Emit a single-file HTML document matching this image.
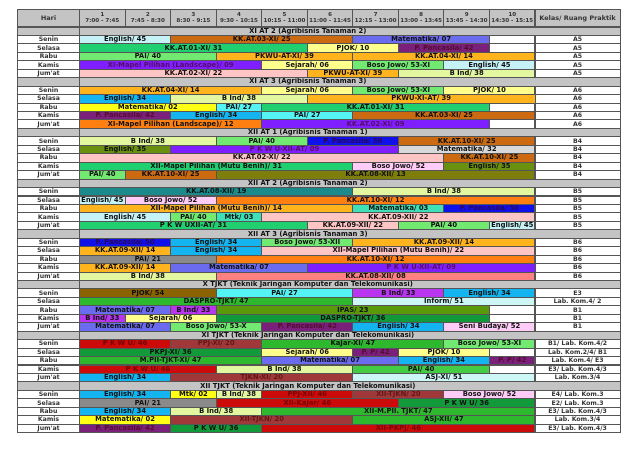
<!DOCTYPE html>
<html><head><meta charset="utf-8">
<style>
html,body{margin:0;padding:0;background:#fff;}
body{width:638px;height:451px;position:relative;overflow:hidden;font-family:"DejaVu Sans","Liberation Sans",sans-serif;}
.c{position:absolute;box-sizing:border-box;border:1px solid #555;font-weight:bold;font-size:6.8px;line-height:7px;text-align:center;white-space:nowrap;overflow:hidden;color:#111;display:flex;align-items:center;justify-content:center;}
.hd{background:#c4c4c4;color:#333;flex-direction:column;font-size:5.6px;line-height:6px;}
.day{background:#fff;color:#333;font-size:6.2px;}
.sec{background:#c4c4c4;}
.dark{color:rgba(60,0,0,.6);}
</style></head>
<body>
<div id="tt"></div>
<script>
const periods=["7:00 - 7:45","7:45 - 8:30","8:30 - 9:15","9:30 - 10:15","10:15 - 11:00","11:00 - 11:45","12:15 - 13:00","13:00 - 13:45","13:45 - 14:30","14:30 - 15:15"];
const days=["Senin","Selasa","Rabu","Kamis","Jum'at"];
const sectionTitles=["XI AT 2 (Agribisnis Tanaman 2)","XI AT 3 (Agribisnis Tanaman 3)","XII AT 1 (Agribisnis Tanaman 1)","XII AT 2 (Agribisnis Tanaman 2)","XII AT 3 (Agribisnis Tanaman 3)","X TJKT (Teknik Jaringan Komputer dan Telekomunikasi)","XI TJKT (Teknik Jaringan Komputer dan Telekomunikasi)","XII TJKT (Teknik Jaringan Komputer dan Telekomunikasi)"];
const rooms=[["A5","A5","A5","A5","A5"],["A6","A6","A6","A6","A6"],["B4","B4","B4","B4","B4"],["B5","B5","B5","B5","B5"],["B6","B6","B6","B6","B6"],["E3","Lab. Kom.4/ 2","B1","B1","B1"],["B1/ Lab. Kom.4/2","Lab. Kom.2/4/ B1","Lab. Kom.4/ E3","E3/ Lab. Kom.4/3","Lab. Kom.3/4"],["E4/ Lab. Kom.3","E2/ Lab. Kom.3","E3/ Lab. Kom.4/3","Lab. Kom.3/4","E3/ Lab. Kom.4/3"]];
const colors={lc:"#c4f2f7",ob:"#cc6a12",bv:"#6b6bf0",gr:"#20d070",ly:"#ffff8c",pu:"#7a1f7a",lg:"#72ea72",go:"#ffb41e",vi:"#7f1fff",pk:"#ffc4c4",yg:"#e2f7a0",sb:"#14b4f0",ye:"#ffff14",cy:"#55f4f4",or:"#ff8010",bl:"#1010e8",ol:"#6a9010",dol:"#7e7e0c",lv:"#ffccf7",lgy:"#d9d9d9",te:"#1a8a8a",aq:"#3fe0b8",gy:"#8a8a8a",sa:"#ff8080",br:"#8a6200",mg:"#b935f0",g2:"#2db82d",ic:"#cdf6f6",ip:"#5a9a0a",dg:"#129a3a",rd:"#cc0a0a",rb:"#a0383a",pg:"#44cc44",w:"#ffffff"};
const darkKeys=["pu","vi","bl","rd","rb"];
// each lesson: [text, span, colorKey]
const schedule=[
[[["English/ 45",2,"lc"],["KK.AT.03-XI/ 25",4,"ob"],["Matematika/ 07",3,"bv"],["",1,"w"]],
 [["KK.AT.01-XI/ 31",5,"gr"],["PJOK/ 10",2,"ly"],["P. Pancasila/ 42",2,"pu"],["",1,"w"]],
 [["PAI/ 40",3,"lg"],["PKWU-AT-XI/ 39",3,"go"],["KK.AT.04-XI/ 14",4,"go"]],
 [["XI-Mapel Pilihan (Landscape)/ 09",4,"vi"],["Sejarah/ 06",2,"ly"],["Boso Jowo/ 53-XI",2,"lg"],["English/ 45",2,"lc"]],
 [["KK.AT.02-XI/ 22",5,"pk"],["PKWU-AT-XI/ 39",2,"go"],["B Ind/ 38",3,"yg"]]],
[[["KK.AT.04-XI/ 14",4,"go"],["Sejarah/ 06",2,"ly"],["Boso Jowo/ 53-XI",2,"lg"],["PJOK/ 10",2,"ly"]],
 [["English/ 34",2,"sb"],["B Ind/ 38",3,"yg"],["PKWU-XI-AT/ 39",5,"go"]],
 [["Matematika/ 02",3,"ye"],["PAI/ 27",1,"cy"],["KK.AT.01-XI/ 31",5,"gr"],["",1,"w"]],
 [["P. Pancasila/ 42",2,"pu"],["English/ 34",2,"sb"],["PAI/ 27",2,"cy"],["KK.AT.03-XI/ 25",4,"ob"]],
 [["XI-Mapel Pilihan (Landscape)/ 12",4,"or"],["KK.AT.02-XI/ 09",5,"vi"],["",1,"w"]]],
[[["B Ind/ 38",3,"yg"],["PAI/ 40",2,"lg"],["P. Pancasila/ 50",2,"bl"],["KK.AT.10-XI/ 25",3,"ob"]],
 [["English/ 35",2,"ol"],["P K W U-XII-AT/ 09",5,"vi"],["Matematika/ 32",3,"lgy"]],
 [["KK.AT.02-XI/ 22",8,"pk"],["KK.AT.10-XI/ 25",2,"ob"]],
 [["XII-Mapel Pilihan (Mutu Benih)/ 31",6,"gr"],["Boso Jowo/ 52",2,"lv"],["English/ 35",2,"ol"]],
 [["PAI/ 40",1,"lg"],["KK.AT.10-XI/ 25",2,"ob"],["KK.AT.08-XII/ 13",7,"dol"]]],
[[["KK.AT.08-XII/ 19",6,"te"],["B Ind/ 38",4,"yg"]],
 [["English/ 45",1,"lc"],["Boso Jowo/ 52",2,"lv"],["KK.AT.10-XI/ 12",7,"or"]],
 [["XII-Mapel Pilihan (Mutu Benih)/ 14",6,"go"],["Matematika/ 03",2,"aq"],["P. Pancasila/ 50",2,"bl"]],
 [["English/ 45",2,"lc"],["PAI/ 40",1,"lg"],["Mtk/ 03",1,"aq"],["KK.AT.09-XII/ 22",6,"pk"]],
 [["P K W UXII-AT/ 31",5,"gr"],["KK.AT.09-XII/ 22",2,"pk"],["PAI/ 40",2,"lg"],["English/ 45",1,"lc"]]],
[[["P. Pancasila/ 50",2,"bl"],["English/ 34",2,"sb"],["Boso Jowo/ 53-XII",2,"lg"],["KK.AT.09-XII/ 14",4,"go"]],
 [["KK.AT.09-XII/ 14",2,"go"],["English/ 34",2,"sb"],["XII-Mapel Pilihan (Mutu Benih)/ 22",6,"pk"]],
 [["PAI/ 21",3,"gy"],["KK.AT.10-XI/ 12",7,"or"]],
 [["KK.AT.09-XII/ 14",2,"go"],["Matematika/ 07",3,"bv"],["P K W U-XII-AT/ 09",5,"vi"]],
 [["B Ind/ 38",3,"yg"],["KK.AT.08-XII/ 08",7,"sa"]]],
[[["PJOK/ 54",3,"br"],["PAI/ 27",3,"cy"],["B Ind/ 33",2,"mg"],["English/ 34",2,"sb"]],
 [["DASPRO-TJKT/ 47",6,"g2"],["Inform/ 51",4,"ic"]],
 [["Matematika/ 07",2,"bv"],["B Ind/ 33",1,"mg"],["IPAS/ 23",6,"ip"],["",1,"w"]],
 [["B Ind/ 33",1,"mg"],["Sejarah/ 06",2,"ly"],["DASPRO-TJKT/ 36",6,"dg"],["",1,"w"]],
 [["Matematika/ 07",2,"bv"],["Boso Jowo/ 53-X",2,"lg"],["P. Pancasila/ 42",2,"pu"],["English/ 34",2,"sb"],["Seni Budaya/ 52",2,"lv"]]],
[[["P K W U/ 46",2,"rd"],["PPJ-XI/ 20",2,"rb"],["KaJar-XI/ 47",4,"g2"],["Boso Jowo/ 53-XI",2,"lg"]],
 [["PKPJ-XI/ 36",4,"dg"],["Sejarah/ 06",2,"ly"],["P. P/ 42",1,"pu"],["PJOK/ 10",2,"ly"],["",1,"w"]],
 [["M.PII-TJKT-XI/ 47",4,"g2"],["Matematika/ 07",3,"bv"],["English/ 34",2,"sb"],["P. P/ 42",1,"pu"]],
 [["P K W U/ 46",3,"rd"],["B Ind/ 38",3,"yg"],["PAI/ 40",3,"pg"],["",1,"w"]],
 [["English/ 34",2,"sb"],["TJKN-XI/ 20",4,"rb"],["ASJ-XI/ 51",4,"ic"]]],
[[["English/ 34",2,"sb"],["Mtk/ 02",1,"ye"],["B Ind/ 38",1,"yg"],["PPJ-XII/ 46",2,"rd"],["XII-TJKN/ 20",2,"rb"],["Boso Jowo/ 52",2,"lv"]],
 [["PAI/ 21",3,"gy"],["XII-KaJar/ 46",4,"rd"],["P K W U/ 36",3,"dg"]],
 [["English/ 34",2,"sb"],["B Ind/ 38",2,"yg"],["XII-M.PIl. TJKT/ 47",6,"g2"]],
 [["Matematika/ 02",2,"ye"],["XII-TJKN/ 20",4,"rb"],["ASJ-XII/ 47",4,"g2"]],
 [["P. Pancasila/ 42",2,"pu"],["P K W U/ 36",2,"dg"],["XII-PKPJ/ 46",6,"rd"]]]
];
const X0=17,HARIW=62,PW=45.55,KW=85,HT=8.7,HB=26.5,RH=8.45;
const tt=document.getElementById('tt');
function px(c){return X0+HARIW+c*PW;}
function cell(x,y,w,h,cls,txt){
  const d=document.createElement('div');
  d.className='c '+cls;
  d.style.left=x+'px';d.style.top=y+'px';d.style.width=(w+1)+'px';d.style.height=(h+1)+'px';
  d.innerHTML=txt;
  tt.appendChild(d);return d;
}
let h=cell(X0,HT,HARIW,HB-HT,'hd','Hari');
h.style.fontSize='6.5px';


periods.forEach((p,i)=>{
  const e=cell(px(i),HT,PW,HB-HT,'hd','<span>'+(i+1)+'</span><span>'+p+'</span>');
  
  
});
h=cell(px(10),HT,KW,HB-HT,'hd','Kelas/ Ruang Praktik');
h.style.fontSize='6.5px';


let row=0;
sectionTitles.forEach((t,s)=>{
  let y=HB+row*RH;
  const a=cell(X0,y,HARIW,RH,'sec','');
  
  
  const b=cell(px(0),y,PW*10+KW,RH,'sec','<span style="display:block;width:'+(PW*10)+'px;text-align:center">'+t+'</span>');
  b.style.justifyContent='flex-start';
  
  
  row++;
  days.forEach((d,di)=>{
    y=HB+row*RH;
    const dc=cell(X0,y,HARIW,RH,'day',d);
    
    
    let c=0;
    schedule[s][di].forEach(l=>{
      const e=cell(px(c),y,PW*l[1],RH,darkKeys.includes(l[2])?'dark':'',l[0]);
      e.style.background=colors[l[2]];
      
      
      c+=l[1];
    });
    const r=cell(px(10),y,KW,RH,'day',rooms[s][di]);
    
    
    row++;
  });
});
</script>
</body></html>
